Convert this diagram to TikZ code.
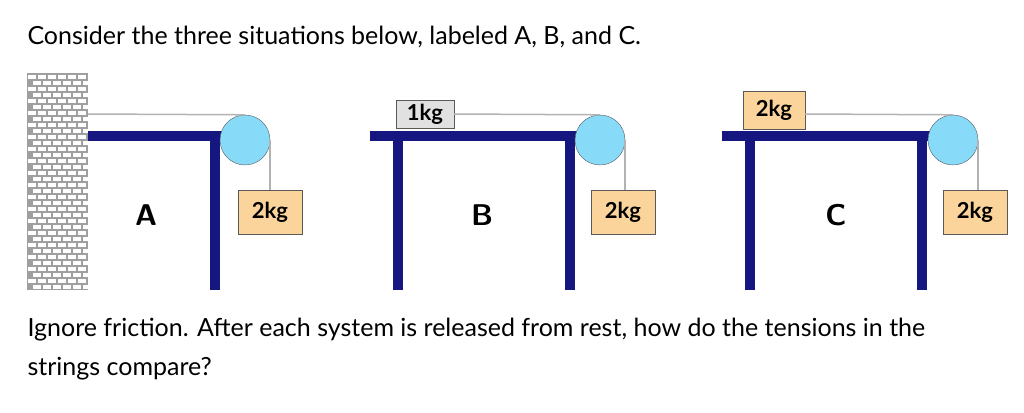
\documentclass[tikz,border=0pt]{standalone}
\usepackage{fontspec}
\setmainfont{Lato}
\definecolor{navy}{RGB}{22,22,128}
\definecolor{pul}{RGB}{135,218,248}
\definecolor{boxc}{RGB}{250,212,155}
\definecolor{gbox}{RGB}{225,225,225}
\tikzset{bar/.style={fill=navy,draw=none},
 pulley/.style={circle,fill=pul,draw=gray!70!black,minimum size=50pt,inner sep=0pt},
 mass/.style={draw=gray!70!black,fill=boxc,font=\bfseries\fontsize{22}{22}\selectfont,minimum width=64pt,minimum height=44pt,inner sep=0pt},
 strg/.style={draw=gray!60,line width=1.5pt},
 lab/.style={font=\bfseries\sffamily\fontsize{30}{30}\selectfont}}
\begin{document}
\begin{tikzpicture}[x=1pt,y=-1pt]
\useasboundingbox (0,0) rectangle (1024,412);
\node[anchor=west,font=\fontsize{25}{25}\selectfont] (t) at (24,37) {Consider the three situations below, labeled A, B, and C.};
\node[anchor=west,font=\fontsize{25}{25}\selectfont] (q1) at (24,330) {Ignore friction. After each system is released from rest, how do the tensions in the};
\node[anchor=west,font=\fontsize{25}{25}\selectfont] (q2) at (24,369) {strings compare?};
% wall
\fill[gray!75] (27,73) rectangle (88,290);
\foreach \r in {0,...,35}{
  \pgfmathsetmacro\yy{74.5+\r*6}
  \pgfmathsetmacro\off{mod(\r,2)*5}
  \foreach \c in {0,...,5}{
    \fill[white] (28+\off+\c*10,\yy) rectangle (35.5+\off+\c*10,\yy+4);}}
\fill[white] (20,290) rectangle (95,300);
\fill[white] (88,70) rectangle (100,300);
\fill[white] (20,70) rectangle (27,300);
% A
\fill[bar] (88,131) rectangle (222,141);
\fill[bar] (210,141) rectangle (220,290);
\node[pulley] (pa) at (245,140) {};
\coordinate (wa) at (88,114);
\draw[strg] (wa) -- (pa.north);
\node[mass] (ma) at (270,212) {2kg};
\draw[strg] (pa.east) -- (ma.north -| pa.east);
\node[lab] (la) at (146,215) {A};
% B
\fill[bar] (370,131) rectangle (578,141);
\fill[bar] (393,141) rectangle (403,290);
\fill[bar] (565,141) rectangle (575,290);
\node[pulley] (pb) at (600,140) {};
\node[mass,fill=gbox,minimum width=58pt,minimum height=28pt] (mb1) at (425,114) {1kg};
\draw[strg] (mb1.east) -- (pb.north);
\node[mass] (mb) at (623,212) {2kg};
\draw[strg] (pb.east) -- (mb.north -| pb.east);
\node[lab] (lb) at (482,215) {B};
% C
\fill[bar] (722,131) rectangle (930,141);
\fill[bar] (745,141) rectangle (755,290);
\fill[bar] (917,141) rectangle (927,290);
\node[pulley] (pc) at (953,140) {};
\node[mass,minimum width=62pt,minimum height=38pt] (mc1) at (774,110) {2kg};
\draw[strg] (mc1.east |- 0,114) coordinate (ce) -- (pc.north);
\node[mass] (mc) at (975,212) {2kg};
\draw[strg] (pc.east) -- (mc.north -| pc.east);
\node[lab] (lc) at (836,215) {C};
\end{tikzpicture}
\end{document}
